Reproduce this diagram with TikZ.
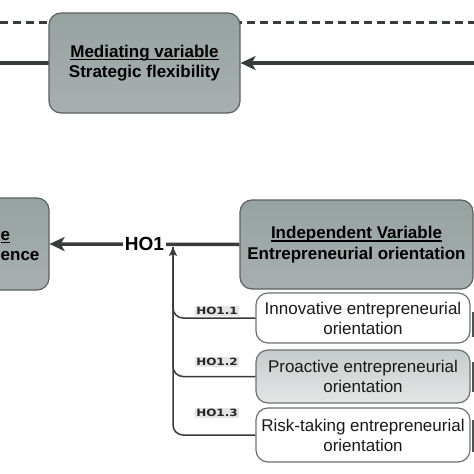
\documentclass[tikz,border=0pt]{standalone}
\usepackage{fontspec}
\setmainfont{Liberation Sans}
\newfontfamily\hofont{DejaVu Sans}
\usetikzlibrary{arrows.meta}
\definecolor{gtop}{HTML}{97A3A1}
\definecolor{gbot}{HTML}{A7B0AE}
\definecolor{boxedge}{HTML}{5A605F}
\definecolor{subedge}{HTML}{6E7070}
\definecolor{lineclr}{HTML}{383B3B}
\definecolor{stop}{HTML}{C6CCCB}
\definecolor{sbot}{HTML}{E4E6E6}
\definecolor{lblbg}{HTML}{E4E4E4}
\definecolor{markclr}{HTML}{4E5252}
\newcommand\myul[1]{\setbox0\hbox{#1}\rlap{\rule[-3pt]{\wd0}{1.4pt}}\box0}
\begin{document}
\begin{tikzpicture}[x=1pt,y=-1pt,
  bigbox/.style={draw=boxedge, line width=1.2pt, rounded corners=12pt, top color=gtop, bottom color=gbot, align=center, font=\fontsize{17}{20.5}\selectfont\bfseries, inner sep=0pt},
  subbox/.style={draw=subedge, line width=1.2pt, rounded corners=12pt, fill=white, align=center, minimum width=214pt, font=\fontsize{17}{20}\selectfont, text=black!90, inner sep=0pt},
  mainline/.style={draw=lineclr, line width=3.5pt},
  mainarrow/.style={mainline, -{Stealth[length=15pt,width=14pt,inset=4pt]}},
  dashline/.style={draw=lineclr, line width=3pt, dash pattern=on 8pt off 5pt},
  thinline/.style={draw=lineclr, line width=1.5pt, rounded corners=10pt},
  holabel/.style={fill=lblbg, inner sep=1.2pt, font=\hofont\bfseries\fontsize{10}{11}\selectfont, text=black!85},
  bigtext/.style={font=\fontsize{17}{20}\selectfont\bfseries, inner sep=0pt}
]
\fill[white] (0,0) rectangle (474,474);
\useasboundingbox (0,0) rectangle (474,474);

% off-picture end points
\coordinate (dl) at (0,22);
\coordinate (dr) at (474,22);
\coordinate (ml) at (0,63);
\coordinate (mr) at (474,63);

\draw[dashline] (dl) -- (dr);
\draw[mainline] (ml) -- (144,63);

% mediating variable
\node[bigbox, minimum width=191pt, minimum height=100pt] (med) at (144.5,63)
  {\myul{Mediating variable}\\Strategic flexibility};
\draw[mainarrow] (mr) -- (med.east);

% dependent (cut) box
\node[bigbox, minimum width=78pt, minimum height=92pt] (dep) at (10,244) {};
\node[bigtext, anchor=west] (depa) at (0.5,237) {\myul{e}};
\node[bigtext, anchor=west] (depb) at (0.5,256) {ence};

% independent variable
\node[bigbox, minimum width=233pt, minimum height=89pt] (ind) at (356.5,244.5)
  {\myul{Independent Variable}\\Entrepreneurial orientation};

\draw[mainarrow] (ind.west) -- node[fill=white, inner sep=2pt, font=\fontsize{19}{20}\selectfont\bfseries] (ho1) {HO1} (dep.east);

% sub-dimensions
\node[subbox, minimum height=50pt] (s1) at (363,318) {Innovative entrepreneurial\\orientation};
\node[subbox, minimum height=53pt, top color=stop, bottom color=sbot] (s2) at (363,376.5) {Proactive entrepreneurial\\orientation};
\node[subbox, minimum height=54pt] (s3) at (363,435) {Risk-taking entrepreneurial\\orientation};

% dark marks at right edge
\fill[markclr] (471.5,312) rectangle (474,337);
\fill[markclr] (471.5,362) rectangle (474,392);
\fill[markclr] (471.5,420) rectangle (474,452);

% branches
\coordinate (join) at (173,247);
\draw[thinline] (s1.west) -| (join);
\draw[thinline] (s2.west) -| (join);
\draw[thinline, -{Stealth[length=9pt,width=8pt,inset=2pt]}] (s3.west) -| (join);

\node[holabel] (l1) at (217,311) {\scalebox{1.2}[1]{HO1.1}};
\node[holabel] (l2) at (217,362) {\scalebox{1.2}[1]{HO1.2}};
\node[holabel] (l3) at (217,413) {\scalebox{1.2}[1]{HO1.3}};
\end{tikzpicture}
\end{document}
